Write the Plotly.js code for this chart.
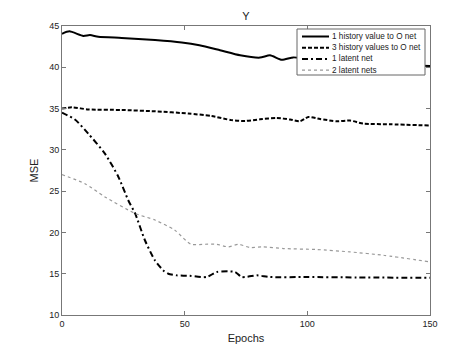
<!DOCTYPE html>
<html>
<head>
<meta charset="utf-8">
<script src="https://cdn.plot.ly/plotly-3.0.1.min.js"></script>
<style>html,body{margin:0;padding:0;background:#fff;}#chart{width:474px;height:355px;}</style>
</head>
<body>
<div id="chart"></div>
<script>
const seriesNames = ["1 history value to O net", "3 history values to O net", "1 latent net", "2 latent nets"];

const hist1X = [0, 3, 8.7, 11.4, 14.8, 24.3, 37.9, 48.8, 56, 64.4, 72.6, 80.7, 84.8, 89.6, 94.3, 100, 110, 120, 130, 140, 150];
const hist1Y = [44.05, 44.35, 43.8, 43.9, 43.7, 43.55, 43.3, 43.0, 42.66, 42.06, 41.45, 41.17, 41.45, 40.9, 41.2, 41.0, 40.8, 40.6, 40.4, 40.25, 40.15];

const hist3X = [0, 4, 10.7, 24.3, 37.9, 51.5, 61, 69, 74.6, 80.7, 87.5, 93, 97, 100.4, 105.2, 112, 117.4, 122.8, 133.7, 150];
const hist3Y = [35.0, 35.15, 34.9, 34.83, 34.67, 34.4, 34.1, 33.6, 33.5, 33.7, 33.86, 33.67, 33.46, 33.98, 33.74, 33.46, 33.55, 33.18, 33.1, 32.95];

const lat1X = [0, 5.3, 10.7, 17.5, 23, 27, 29.8, 33.8, 37.9, 41.3, 43.3, 46.8, 52, 59, 63, 70.5, 73.3, 79.4, 84.8, 100, 120, 150];
const lat1Y = [34.5, 33.67, 31.97, 29.55, 26.72, 23.9, 22.3, 19.05, 16.6, 15.4, 15.0, 14.8, 14.75, 14.6, 15.2, 15.22, 14.6, 14.8, 14.6, 14.6, 14.55, 14.5];

const lat2X = [0, 9.4, 17.5, 29.8, 37.9, 46, 52.5, 58.3, 63, 67.8, 71.9, 76.6, 82, 90.2, 103.8, 117.4, 131, 150];
const lat2Y = [27.0, 25.9, 24.3, 22.3, 21.5, 20.27, 18.57, 18.57, 18.57, 18.25, 18.57, 18.17, 18.25, 18.05, 17.93, 17.64, 17.24, 16.43];

const xTicks = [0, 50, 100, 150];
const yTicks = [10, 15, 20, 25, 30, 35, 40, 45];

const lineStyles = [
  {color: "#000", width: 2},
  {color: "#000", width: 2, dash: "4px,2px"},
  {color: "#000", width: 2, dash: "6px,3px,2px,3px"},
  {color: "#999", width: 1.2, dash: "dot"}
];

const xs = [hist1X, hist3X, lat1X, lat2X];
const ys = [hist1Y, hist3Y, lat1Y, lat2Y];

const traces = seriesNames.map((n, i) => ({
  x: xs[i], y: ys[i], name: n, mode: "lines", showlegend: false,
  line: Object.assign({shape: "spline", smoothing: 0.6}, lineStyles[i])
}));

// Compact MATLAB-style legend box (paper coordinates)
const plotL = 62, plotT = 26, plotW = 368, plotH = 289;
const px = v => (v - plotL) / plotW;
const py = v => (plotT + plotH - v) / plotH;
const legBox = {x0: 297, x1: 425, y0: 29, y1: 75};
const rowY0 = 36.5, rowStep = 11.2;

const shapes = [{
  type: "rect", xref: "paper", yref: "paper", layer: "above",
  x0: px(legBox.x0), x1: px(legBox.x1), y0: py(legBox.y1), y1: py(legBox.y0),
  fillcolor: "#fff", line: {color: "#666", width: 1}
}];
const annotations = [];
seriesNames.forEach((n, i) => {
  const yy = py(rowY0 + i * rowStep);
  shapes.push({type: "line", xref: "paper", yref: "paper", layer: "above",
    x0: px(302), x1: px(329), y0: yy, y1: yy, line: lineStyles[i]});
  annotations.push({xref: "paper", yref: "paper", x: px(330), y: yy, xanchor: "left", yanchor: "middle",
    text: n, showarrow: false, font: {size: 8.2, color: "#222"}});
});

const axisCommon = {
  showgrid: false, zeroline: false, showline: true, linecolor: "#777", linewidth: 1,
  mirror: "ticks", ticks: "inside", ticklen: 4, tickcolor: "#777",
  tickfont: {family: "Liberation Sans, Arial, sans-serif", size: 9, color: "#222"}
};

const layout = {
  width: 474, height: 355,
  margin: {l: 62, r: 44, t: 26, b: 40},
  paper_bgcolor: "#fff", plot_bgcolor: "#fff",
  font: {family: "Liberation Sans, Arial, sans-serif", color: "#222"},
  title: {text: "Y", font: {size: 11, color: "#222"}, x: 0.5, xanchor: "center", y: 0.955, yanchor: "middle", xref: "paper"},
  xaxis: Object.assign({}, axisCommon, {range: [0, 150], tickvals: xTicks, title: {text: "Epochs", font: {size: 11}, standoff: 6}}),
  yaxis: Object.assign({}, axisCommon, {range: [10, 45], tickvals: yTicks, title: {text: "MSE", font: {size: 11}, standoff: 8}}),
  shapes: shapes,
  annotations: annotations,
  showlegend: false
};

Plotly.newPlot("chart", traces, layout, {displayModeBar: false, staticPlot: true});
</script>
</body>
</html>
